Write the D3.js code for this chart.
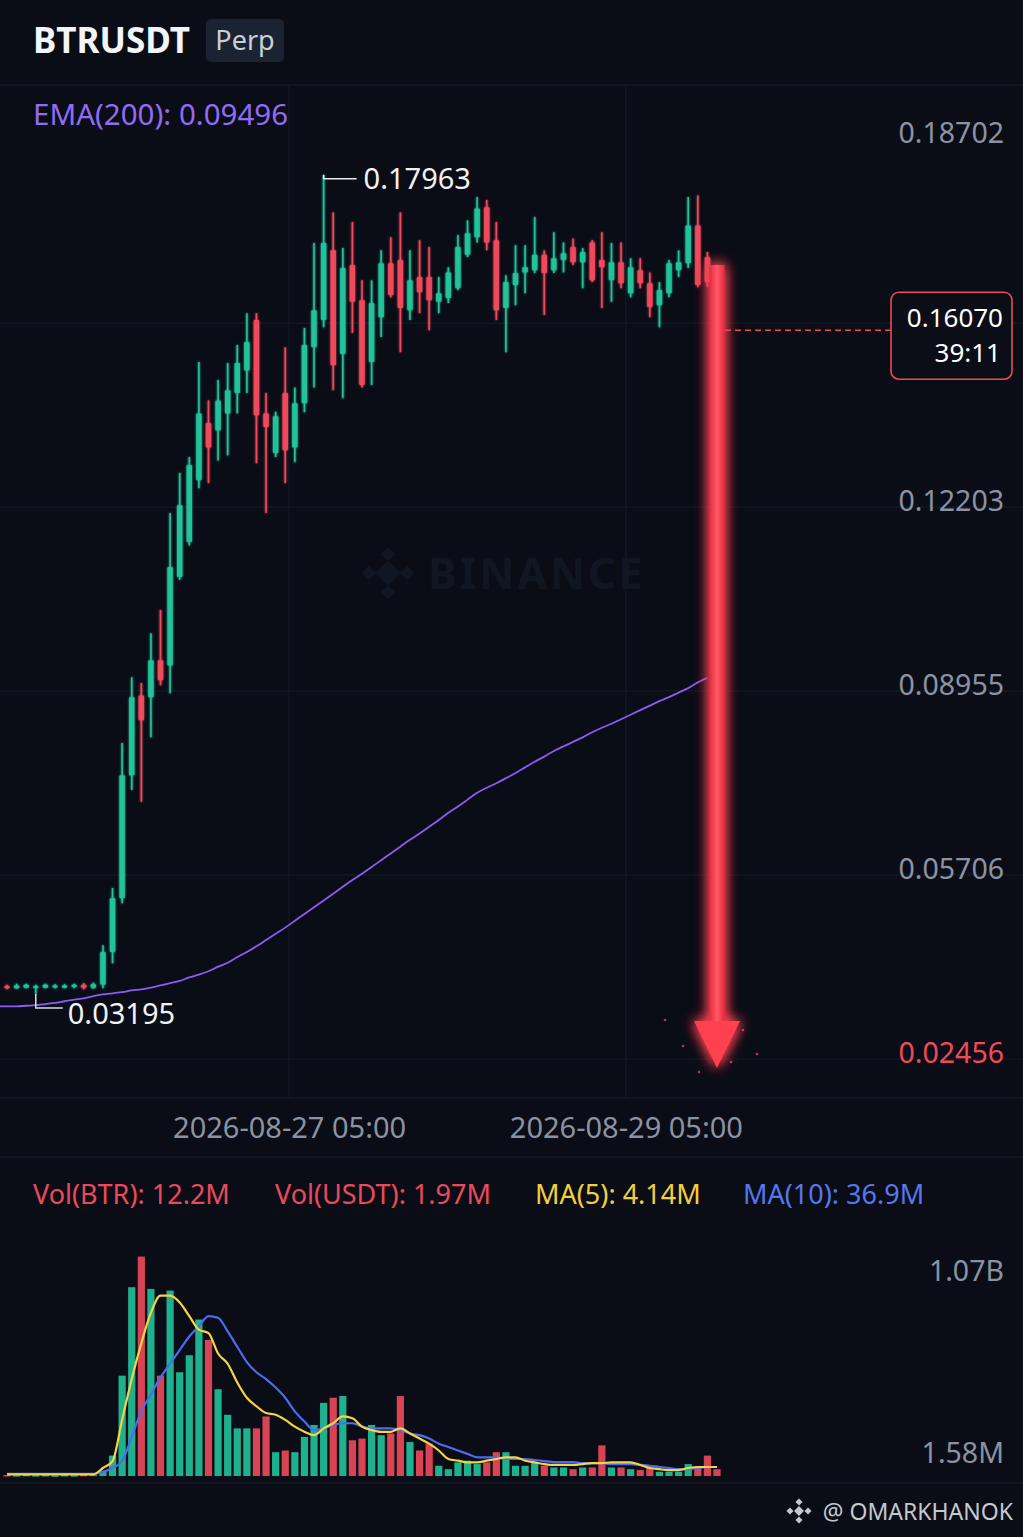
<!DOCTYPE html>
<html>
<head>
<meta charset="utf-8">
<script src="https://cdn.jsdelivr.net/npm/d3@7/dist/d3.min.js"></script>
<style>
html, body { margin: 0; padding: 0; background: #0a0d16; }
svg { display: block; }
text { font-family: "Noto Sans", sans-serif; }
</style>
</head>
<body>
<svg id="chart"></svg>
<script>
let width = 1023;
let height = 1537;

// candles (price, USDT)
const opens = [
  .0364,.0360,.0361,.0362,.0361,.0362,.0361,.0362,.0366,.0361,
  .0366,.0424,.0519,.0736,.0877,.0874,.0939,.0930,.1086,.1148,
  .1257,.1358,.1345,.1375,.1411,.1451,.1540,.1375,.1305,.1411,
  .1315,.1393,.1492,.1540,.1663,.1480,.1637,.1575,.1466,.1545,
  .1640,.1646,.1557,.1616,.1616,.1572,.1579,.1596,.1655,.1686,
  .1739,.1681,.1561,.1602,.1624,.1628,.1655,.1628,.1646,.1669,
  .1642,.1677,.1646,.1610,.1642,.1587,.1628,.1605,.1566,.1587,
  .1628,.1640,.1707,.1651,.1623
];
const highs = [
  .0366,.0368,.0368,.0366,.0368,.0367,.0367,.0368,.0369,.0370,
  .0436,.0537,.0793,.0909,.0899,.0987,.1028,.1199,.1270,.1298,
  .1466,.1398,.1434,.1464,.1496,.1552,.1552,.1411,.1378,.1492,
  .1421,.1526,.1676,.17963,.1730,.1667,.1713,.1610,.1610,.1663,
  .1686,.1730,.1663,.1681,.1669,.1616,.1633,.1690,.1716,.1757,
  .1752,.1713,.1619,.1672,.1672,.1722,.1663,.1695,.1677,.1684,
  .1667,.1681,.1695,.1676,.1677,.1649,.1649,.1624,.1607,.1646,
  .1663,.1757,.1760,.1660,.1637
];
const lows = [
  .0358,.0359,.0360,.0350,.0360,.0360,.0360,.0360,.0358,.0359,
  .0360,.0404,.0510,.0710,.0689,.0803,.0895,.0881,.1081,.1142,
  .1243,.1252,.1292,.1301,.1375,.1411,.1287,.1199,.1298,.1252,
  .1289,.1377,.1421,.1527,.1416,.1402,.1517,.1421,.1425,.1510,
  .1580,.1483,.1540,.1552,.1522,.1552,.1570,.1593,.1651,.1677,
  .1663,.1540,.1483,.1566,.1587,.1623,.1549,.1623,.1624,.1637,
  .1596,.1607,.1561,.1572,.1596,.1580,.1596,.1545,.1527,.1580,
  .1616,.1632,.1598,.1598,.1522
];
const closes = [
  .0360,.0365,.0366,.0364,.0366,.0365,.0365,.0366,.0361,.0367,
  .0424,.0519,.0736,.0874,.0833,.0939,.0904,.1104,.1213,.1284,
  .1375,.1315,.1398,.1416,.1464,.1501,.1372,.1351,.1370,.1310,
  .1393,.1496,.1557,.1676,.1460,.1632,.1572,.1425,.1570,.1640,
  .1584,.1561,.1610,.1589,.1575,.1587,.1624,.1669,.1693,.1737,
  .1677,.1557,.1607,.1623,.1633,.1655,.1623,.1649,.1658,.1642,
  .1660,.1610,.1633,.1642,.1605,.1633,.1605,.1563,.1593,.1640,
  .1642,.1707,.1602,.1607,.1522
];

// EMA(200), one value per candle (last candle has none)
const ema200 = [
  .0328,.0328,.0329,.0330,.0332,.0334,.0337,.0340,.0342,.0346,
  .0349,.0351,.0353,.0356,.0358,.0361,.0365,.0369,.0373,.0379,
  .0384,.0390,.0398,.0405,.0415,.0424,.0434,.0445,.0456,.0467,
  .0479,.0491,.0503,.0515,.0527,.0539,.0551,.0562,.0574,.0586,
  .0598,.0610,.0622,.0633,.0645,.0657,.0670,.0681,.0693,.0705,
  .0714,.0722,.0731,.0740,.0750,.0760,.0769,.0779,.0787,.0795,
  .0803,.0812,.0820,.0827,.0835,.0843,.0851,.0859,.0867,.0874,
  .0882,.0890,.0900,.0908
];

// volume, billions
const volumes = [
  .006,.005,.007,.005,.006,.004,.006,.005,.007,.008,
  .03,.12,.59,1.11,1.29,1.10,.59,1.09,.61,.71,
  .92,.80,.51,.36,.28,.28,.28,.35,.14,.15,
  .14,.23,.30,.43,.46,.47,.21,.22,.30,.24,
  .25,.47,.20,.15,.19,.06,.04,.08,.09,.07,
  .08,.14,.14,.06,.06,.08,.06,.05,.05,.04,
  .05,.05,.18,.05,.05,.04,.035,.05,.025,.025,
  .025,.07,.05,.12,.04
];
const ma5 = [
  .01,.01,.01,.01,.01,.01,.01,.01,.01,.01,
  .047,.088,.33,.57,.78,.96,1.06,1.06,1.02,.94,
  .86,.84,.72,.66,.55,.46,.41,.37,.36,.33,
  .29,.26,.24,.28,.31,.35,.34,.29,.27,.26,
  .26,.28,.25,.22,.19,.15,.10,.09,.08,.08,
  .09,.10,.11,.11,.09,.08,.07,.065,.065,.065,
  .07,.076,.076,.08,.08,.08,.065,.047,.04,.035,
  .035,.047,.053,.053,.053
];
const ma10 = [
  .012,.012,.012,.012,.012,.012,.012,.012,.012,.012,
  .024,.047,.088,.23,.38,.48,.58,.66,.74,.82,
  .88,.94,.93,.85,.76,.67,.61,.57,.52,.46,
  .38,.32,.27,.28,.30,.31,.31,.29,.28,.28,
  .28,.27,.25,.24,.22,.19,.17,.15,.13,.11,
  .11,.11,.10,.10,.10,.094,.088,.082,.082,.082,
  .076,.076,.076,.07,.07,.07,.065,.06,.053,.047,
  .04,.04,.047,.053,.053
];

const priceTicks = [0.18702, 0.15452, 0.12203, 0.08955, 0.05706, 0.02456];
const hiddenTick = 0.15452; // sits behind the live price tag
const volTicks = [1.07, 0.00158];
const volTickLabels = ['1.07B', '1.58M'];
const timeTicks = [29.4, 64.5];
const timeLabels = ['2026-08-27 05:00', '2026-08-29 05:00'];
const highMark = 0.17963;
const lowMark = 0.03195;
const lowIndex = 3;
const highIndex = 33;
const target = 0.02456;
const emaValue = 0.09496;
const lastPriceText = '0.16070';
const countdownText = '39:11';
const volHeader = [
  { text: 'Vol(BTR): 12.2M', color: '#ea4a5c' },
  { text: 'Vol(USDT): 1.97M', color: '#ea4a5c' },
  { text: 'MA(5): 4.14M', color: '#f3cf3d' },
  { text: 'MA(10): 36.9M', color: '#5677ef' }
];
const volHeaderX = [33, 275, 535, 743];

const green = '#21c29b';
const red = '#ee4a5c';
const axisGrey = '#8b93a2';
const gridColor = '#151a25';
const lineColor = '#1b202b';

let svg = d3.select('#chart').attr('width', width).attr('height', height);

svg.append('rect').attr('width', width).attr('height', height).attr('fill', '#0a0d16');

let defs = svg.append('defs');
let glow = defs.append('filter').attr('id', 'glow')
  .attr('x', '-200%').attr('y', '-10%').attr('width', '500%').attr('height', '120%');
glow.append('feGaussianBlur').attr('stdDeviation', 7).attr('result', 'b');
let merge = glow.append('feMerge');
merge.append('feMergeNode').attr('in', 'b');
merge.append('feMergeNode').attr('in', 'b');
merge.append('feMergeNode').attr('in', 'SourceGraphic');

let soft = defs.append('filter').attr('id', 'soft')
  .attr('x', '-50%').attr('y', '-5%').attr('width', '200%').attr('height', '110%');
soft.append('feGaussianBlur').attr('stdDeviation', 1.2).attr('result', 'b');
let m2 = soft.append('feMerge');
m2.append('feMergeNode').attr('in', 'b');
m2.append('feMergeNode').attr('in', 'SourceGraphic');

let shaftGrad = defs.append('linearGradient').attr('id', 'shaft').attr('x1', 0).attr('x2', 1);
shaftGrad.append('stop').attr('offset', '0%').attr('stop-color', '#e8283c');
shaftGrad.append('stop').attr('offset', '50%').attr('stop-color', '#ff5a66');
shaftGrad.append('stop').attr('offset', '100%').attr('stop-color', '#e8283c');

// scales
let x = d3.scaleLinear().domain([0, opens.length - 1]).range([7, 717]);
let y = d3.scaleLinear().domain([0.02456, 0.18702]).range([1053, 133]);
let yVol = d3.scaleLinear().domain([0, 1.07]).range([1476, 1294]);

// pane separators
[85, 1098, 1157, 1483].forEach(v => {
  svg.append('line').attr('x1', 0).attr('x2', width).attr('y1', v).attr('y2', v)
    .attr('stroke', lineColor).attr('stroke-width', 1.2);
});

// grid
svg.append('g').selectAll('line').data(priceTicks.slice(1)).join('line')
  .attr('x1', 0).attr('x2', width)
  .attr('y1', d => y(d) + 6).attr('y2', d => y(d) + 6)
  .attr('stroke', gridColor).attr('stroke-width', 1.2);
svg.append('g').selectAll('line').data(timeTicks).join('line')
  .attr('x1', d => x(d)).attr('x2', d => x(d))
  .attr('y1', 86).attr('y2', 1098)
  .attr('stroke', gridColor).attr('stroke-width', 1.2);

// faint exchange watermark
let wm = svg.append('g').attr('transform', 'translate(388,573)').attr('fill', '#111623');
wm.append('rect').attr('x', -9).attr('y', -9).attr('width', 18).attr('height', 18).attr('transform', 'rotate(45)');
[[0, -19], [0, 19], [-19, 0], [19, 0]].forEach(p => {
  wm.append('rect').attr('x', p[0] - 5).attr('y', p[1] - 5).attr('width', 10).attr('height', 10)
    .attr('transform', `rotate(45 ${p[0]} ${p[1]})`);
});
wm.append('text').attr('x', 40).attr('y', 16).attr('font-size', 43).attr('font-weight', 700)
  .attr('letter-spacing', 3).text('BINANCE');

// header
svg.append('text').attr('x', 33).attr('y', 53).attr('font-size', 35).attr('font-weight', 700)
  .attr('fill', '#f3f5f8').text('BTRUSDT');
svg.append('rect').attr('x', 206).attr('y', 19).attr('width', 78).attr('height', 43).attr('rx', 5)
  .attr('fill', '#1b2332');
svg.append('text').attr('x', 245).attr('y', 50).attr('text-anchor', 'middle').attr('font-size', 27)
  .attr('fill', '#c9cfd9').text('Perp');
svg.append('text').attr('x', 33).attr('y', 125).attr('font-size', 29.5).attr('fill', '#8f6cf3')
  .text('EMA(200): ' + d3.format('.5f')(emaValue));

// price axis labels (the tick behind the live tag gets no label)
let priceAxis = d3.axisLeft(y).tickValues(priceTicks.filter(d => d !== hiddenTick))
  .tickFormat(d3.format('.5f'))
  .tickSize(0).tickPadding(0);
let pa = svg.append('g').attr('transform', 'translate(1004,0)').call(priceAxis);
pa.select('.domain').remove();
pa.selectAll('text').attr('font-size', 28.5).attr('font-family', '"Noto Sans", sans-serif')
  .attr('fill', d => d === target ? red : axisGrey);

// time axis labels
let timeAxis = d3.axisBottom(x).tickValues(timeTicks).tickFormat((d, i) => timeLabels[i]).tickSize(0).tickPadding(0);
let ta = svg.append('g').attr('transform', 'translate(0,1117)').call(timeAxis);
ta.select('.domain').remove();
ta.selectAll('text').attr('font-size', 29).attr('font-family', '"Noto Sans", sans-serif').attr('fill', axisGrey);

// EMA line
svg.append('path').datum(ema200)
  .attr('d', d3.line().x((d, i) => x(i)).y(d => y(d)).curve(d3.curveMonotoneX))
  .attr('fill', 'none').attr('stroke', '#8a5cf4').attr('stroke-width', 1.8);
svg.append('line').attr('x1', 0).attr('x2', x(0)).attr('y1', y(ema200[0])).attr('y2', y(ema200[0]))
  .attr('stroke', '#8a5cf4').attr('stroke-width', 1.8);

// candles
let idx = d3.range(opens.length);
let candles = svg.append('g').attr('filter', 'url(#soft)');
candles.selectAll('line').data(idx).join('line')
  .attr('x1', i => x(i)).attr('x2', i => x(i))
  .attr('y1', i => y(highs[i])).attr('y2', i => y(lows[i]))
  .attr('stroke', i => closes[i] >= opens[i] ? green : red)
  .attr('stroke-width', 1.6);
candles.selectAll('rect').data(idx).join('rect')
  .attr('x', i => x(i) - 2.7).attr('width', 5.4)
  .attr('y', i => y(Math.max(opens[i], closes[i])))
  .attr('height', i => Math.max(2, Math.abs(y(opens[i]) - y(closes[i]))))
  .attr('rx', 1)
  .attr('fill', i => closes[i] >= opens[i] ? green : red);

// high / low marks
let hx = x(highIndex), hy = y(highMark);
svg.append('line').attr('x1', hx).attr('x2', hx + 33).attr('y1', hy + 4).attr('y2', hy + 4)
  .attr('stroke', '#e8eaee').attr('stroke-width', 1.5);
svg.append('line').attr('x1', hx).attr('x2', hx).attr('y1', hy).attr('y2', hy + 4)
  .attr('stroke', '#e8eaee').attr('stroke-width', 1.5);
svg.append('text').attr('x', hx + 40).attr('y', hy + 14).attr('font-size', 29).attr('fill', '#f2f3f5')
  .text(d3.format('.5f')(highMark));
let lx = x(lowIndex), ly = y(lows[lowIndex]);
svg.append('path').attr('d', `M${lx},${ly}V${ly + 14}H${lx + 27}`)
  .attr('fill', 'none').attr('stroke', '#d8dbe0').attr('stroke-width', 1.5);
svg.append('text').attr('x', lx + 32).attr('y', ly + 30).attr('font-size', 29).attr('fill', '#f2f3f5')
  .text(d3.format('.5f')(lowMark));

// projection arrow from the last candle to the target
let last = opens.length - 1;
let ax = x(last);
let tipY = y(target) + 15;
let headTop = tipY - 47;
let arrow = svg.append('g').attr('filter', 'url(#glow)');
arrow.append('rect').attr('x', ax - 7.5).attr('width', 15)
  .attr('y', y(highs[last])).attr('height', headTop - y(highs[last]) + 2)
  .attr('fill', 'url(#shaft)');
arrow.append('path').attr('d', `M${ax - 23},${headTop}L${ax + 23},${headTop}L${ax},${tipY}Z`)
  .attr('fill', '#ff4050');
[[-52, -48], [26, -38], [-18, 4], [14, -6], [40, -14], [-34, -22]].forEach(p => {
  svg.append('circle').attr('cx', ax + p[0]).attr('cy', tipY + p[1]).attr('r', 1.3)
    .attr('fill', '#ff5060').attr('opacity', 0.7);
});

// current price line and tag
let py = y(closes[last]);
svg.append('line').attr('x1', ax + 8).attr('x2', 891).attr('y1', py).attr('y2', py)
  .attr('stroke', '#e94a5a').attr('stroke-width', 1.5).attr('stroke-dasharray', '6,4');
svg.append('rect').attr('x', 891).attr('y', py - 38).attr('width', 121).attr('height', 87).attr('rx', 8)
  .attr('fill', '#0b0e17').attr('stroke', '#e94a5a').attr('stroke-width', 1.6);
svg.append('text').attr('x', 1003).attr('y', py - 3).attr('text-anchor', 'end').attr('font-size', 26)
  .attr('fill', '#ffffff').text(lastPriceText);
svg.append('text').attr('x', 1001).attr('y', py + 32).attr('text-anchor', 'end').attr('font-size', 26)
  .attr('fill', '#ffffff').text(countdownText);

// volume pane header
svg.append('g').selectAll('text').data(volHeader).join('text')
  .attr('x', (d, i) => volHeaderX[i]).attr('y', 1204).attr('font-size', 27)
  .attr('fill', d => d.color).text(d => d.text);

// volume axis labels
svg.append('g').selectAll('text').data(volTicks).join('text')
  .attr('x', 1004).attr('y', d => yVol(d) - 13).attr('text-anchor', 'end')
  .attr('font-size', 28.5).attr('fill', axisGrey)
  .text((d, i) => volTickLabels[i]);

// volume bars
svg.append('g').selectAll('rect').data(idx).join('rect')
  .attr('x', i => x(i) - 3.6).attr('width', 7.2)
  .attr('y', i => yVol(volumes[i]))
  .attr('height', i => Math.max(1.5, yVol(0) - yVol(volumes[i])))
  .attr('fill', i => closes[i] >= opens[i] ? green : red)
  .attr('opacity', 0.9);

// volume moving averages
let volLine = d3.line().x((d, i) => x(i)).y(d => yVol(d)).curve(d3.curveMonotoneX);
svg.append('path').datum(ma10).attr('d', volLine)
  .attr('fill', 'none').attr('stroke', '#4d6bf0').attr('stroke-width', 2.2);
svg.append('path').datum(ma5).attr('d', volLine)
  .attr('fill', 'none').attr('stroke', '#f4d442').attr('stroke-width', 2.2);

// footer handle
let logo = svg.append('g').attr('transform', 'translate(799,1511)').attr('fill', '#c4c8cf');
logo.append('rect').attr('x', -3.5).attr('y', -3.5).attr('width', 7).attr('height', 7).attr('transform', 'rotate(45)');
[[0, -9], [0, 9], [-9, 0], [9, 0]].forEach(p => {
  logo.append('rect').attr('x', p[0] - 2.5).attr('y', p[1] - 2.5).attr('width', 5).attr('height', 5)
    .attr('transform', `rotate(45 ${p[0]} ${p[1]})`);
});
svg.append('text').attr('x', 1013).attr('y', 1520).attr('text-anchor', 'end')
  .attr('font-size', 23).attr('fill', '#c4c8cf')
  .text('@ OMARKHANOK');
</script>
</body>
</html>
